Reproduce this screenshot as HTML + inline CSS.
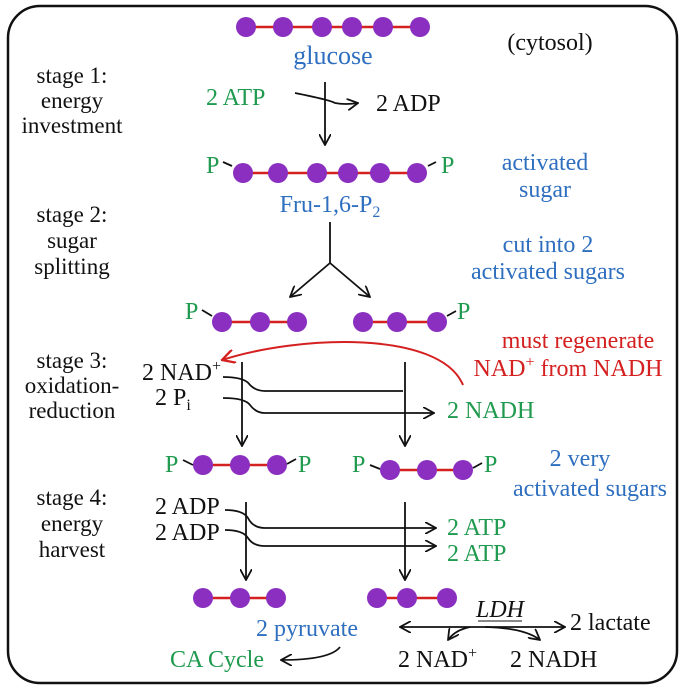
<!DOCTYPE html>
<html><head><meta charset="utf-8"><style>
html,body{margin:0;padding:0;background:#fff;font-family:"Liberation Serif",serif}
svg{display:block}
text{font-family:"Liberation Serif","Noto Serif CJK SC",serif;font-size:24px}
.b{fill:#2f6fbf}.g{fill:#1f9a4f}.r{fill:#d42020}.k{fill:#111}
.l{stroke:#111;stroke-width:1.8;fill:none}
.s text{font-size:23px}
</style></head><body>
<svg width="685" height="690" viewBox="0 0 685 690">
<defs>
<marker id="a" viewBox="0 0 12 12" refX="11" refY="6" markerWidth="12" markerHeight="12" markerUnits="userSpaceOnUse" orient="auto-start-reverse"><path d="M0,0 L11,6 L0,12" fill="none" stroke="#111" stroke-width="1.8"/></marker>
<marker id="ar" viewBox="0 0 12 12" refX="11" refY="6" markerWidth="14" markerHeight="14" markerUnits="userSpaceOnUse" orient="auto"><path d="M0,0 L11,6 L0,12" fill="none" stroke="#d42020" stroke-width="2"/></marker>
</defs>
<rect x="8" y="6" width="669" height="677" rx="32" fill="none" stroke="#111" stroke-width="2.5"/>
<g fill="#8a2fc0" stroke="#d42020" stroke-width="2.5">
<line x1="246" y1="27" x2="420" y2="27"/>
<line x1="243" y1="173" x2="417" y2="173"/>
<line x1="222" y1="322" x2="297" y2="322"/>
<line x1="363" y1="322" x2="437" y2="322"/>
<line x1="203" y1="465" x2="277" y2="465"/>
<line x1="390" y1="470" x2="463" y2="470"/>
<line x1="203" y1="598" x2="276" y2="598"/>
<line x1="377" y1="598" x2="447" y2="598"/>
</g>
<g fill="#8a2fc0">
<circle cx="246" cy="27" r="10"/><circle cx="283" cy="27" r="10"/><circle cx="322" cy="27" r="10"/><circle cx="352" cy="27" r="10"/><circle cx="383" cy="27" r="10"/><circle cx="420" cy="27" r="10"/>
<circle cx="243" cy="173" r="10"/><circle cx="278" cy="173" r="10"/><circle cx="317" cy="173" r="10"/><circle cx="348" cy="173" r="10"/><circle cx="380" cy="173" r="10"/><circle cx="417" cy="173" r="10"/>
<circle cx="222" cy="322" r="10"/><circle cx="260" cy="322" r="10"/><circle cx="297" cy="322" r="10"/>
<circle cx="363" cy="322" r="10"/><circle cx="397" cy="322" r="10"/><circle cx="437" cy="322" r="10"/>
<circle cx="203" cy="465" r="10"/><circle cx="240" cy="465" r="10"/><circle cx="277" cy="465" r="10"/>
<circle cx="390" cy="470" r="10"/><circle cx="427" cy="470" r="10"/><circle cx="463" cy="470" r="10"/>
<circle cx="203" cy="598" r="10"/><circle cx="240" cy="598" r="10"/><circle cx="276" cy="598" r="10"/>
<circle cx="377" cy="598" r="10"/><circle cx="407" cy="598" r="10"/><circle cx="447" cy="598" r="10"/>
</g>
<g class="l">
<line x1="223" y1="162" x2="232" y2="166"/><line x1="428" y1="166" x2="436" y2="162"/>
<line x1="202" y1="310" x2="212" y2="316"/><line x1="447" y1="316" x2="456" y2="311"/>
<line x1="183" y1="460" x2="193" y2="465"/><line x1="287" y1="464" x2="296" y2="459"/>
<line x1="370" y1="465" x2="380" y2="469"/><line x1="473" y1="468" x2="482" y2="463"/>
</g>
<line class="l" x1="325" y1="82" x2="325" y2="145" marker-end="url(#a)"/>
<path class="l" d="M295,93 Q330,100 335,103 Q345,105 358,103" marker-end="url(#a)"/>
<path class="l" d="M330,222 L330,263"/>
<line class="l" x1="330" y1="263" x2="290" y2="297" marker-end="url(#a)"/>
<line class="l" x1="330" y1="263" x2="370" y2="297" marker-end="url(#a)"/>
<path d="M463,385 C440,330 300,335 222,360" fill="none" stroke="#d42020" stroke-width="2" marker-end="url(#ar)"/>
<line class="l" x1="242" y1="362" x2="242" y2="446" marker-end="url(#a)"/>
<line class="l" x1="405" y1="362" x2="405" y2="446" marker-end="url(#a)"/>
<path class="l" d="M223,377 Q245,377 250,385 Q256,391 265,391 L403,391"/>
<path class="l" d="M223,398 Q245,398 250,405 Q256,413 265,413 L405,413 L434,413" marker-end="url(#a)"/>
<line class="l" x1="246" y1="502" x2="246" y2="580" marker-end="url(#a)"/>
<line class="l" x1="405" y1="502" x2="405" y2="580" marker-end="url(#a)"/>
<path class="l" d="M225,510 Q243,510 248,518 Q253,528 265,528 L436,528" marker-end="url(#a)"/>
<path class="l" d="M225,530 Q243,530 248,538 Q253,546 265,546 L436,546" marker-end="url(#a)"/>
<path class="l" d="M400,627 L565,627" marker-start="url(#a)" marker-end="url(#a)"/>
<path class="l" d="M470,627 Q455,630 448,640" marker-end="url(#a)"/>
<path class="l" d="M485,627 Q525,628 540,640" marker-end="url(#a)"/>
<path class="l" d="M340,647 Q330,660 281,660" marker-end="url(#a)"/>
<text x="550" y="50" text-anchor="middle" class="k">(cytosol)</text>
<text x="333" y="64" text-anchor="middle" class="b" style="font-size:26px">glucose</text>
<text x="206" y="105" class="g">2 ATP</text>
<text x="376" y="111" class="k">2 ADP</text>
<text x="206" y="173" class="g">P</text><text x="441" y="173" class="g">P</text>
<text x="330" y="212" text-anchor="middle" class="b">Fru-1,6-P<tspan style="font-size:16px" dy="5">2</tspan></text>
<text x="545" y="170" text-anchor="middle" class="b">activated</text>
<text x="545" y="197" text-anchor="middle" class="b">sugar</text>
<text x="548" y="252" text-anchor="middle" class="b">cut into 2</text>
<text x="548" y="279" text-anchor="middle" class="b">activated sugars</text>
<text x="185" y="319" class="g">P</text><text x="457" y="319" class="g">P</text>
<text x="578" y="348" text-anchor="middle" class="r">must regenerate</text>
<text x="568" y="376" text-anchor="middle" class="r">NAD<tspan style="font-size:16px" dy="-9">+</tspan><tspan dy="9"> from NADH</tspan></text>
<text x="142" y="380" class="k">2 NAD<tspan style="font-size:16px" dy="-9">+</tspan></text>
<text x="155" y="405" class="k">2 P<tspan style="font-size:16px" dy="5">i</tspan></text>
<text x="447" y="418" class="g">2 NADH</text>
<text x="165" y="472" class="g">P</text><text x="298" y="472" class="g">P</text>
<text x="352" y="472" class="g">P</text><text x="484" y="472" class="g">P</text>
<text x="580" y="466" text-anchor="middle" class="b">2 very</text>
<text x="590" y="496" text-anchor="middle" class="b">activated sugars</text>
<text x="155" y="514" class="k">2 ADP</text>
<text x="155" y="540" class="k">2 ADP</text>
<text x="447" y="535" class="g">2 ATP</text>
<text x="447" y="561" class="g">2 ATP</text>
<text x="307" y="636" text-anchor="middle" class="b">2 pyruvate</text>
<text x="500" y="617" text-anchor="middle" class="k" font-style="italic">LDH</text>
<text x="570" y="630" class="k">2 lactate</text>
<text x="398" y="667" class="k">2 NAD<tspan style="font-size:16px" dy="-9">+</tspan></text>
<text x="510" y="667" class="k">2 NADH</text>
<text x="170" y="667" class="g">CA Cycle</text>
<line x1="478" y1="621" x2="522" y2="621" stroke="#111" stroke-width="1"/>
<g class="k s" text-anchor="middle">
<text x="72" y="83">stage 1:</text><text x="72" y="108">energy</text><text x="72" y="133">investment</text>
<text x="72" y="222">stage 2:</text><text x="72" y="248">sugar</text><text x="72" y="274">splitting</text>
<text x="72" y="368">stage 3:</text><text x="72" y="393">oxidation-</text><text x="72" y="418">reduction</text>
<text x="72" y="505">stage 4:</text><text x="72" y="531">energy</text><text x="72" y="557">harvest</text>
</g>
</svg>
</body></html>
